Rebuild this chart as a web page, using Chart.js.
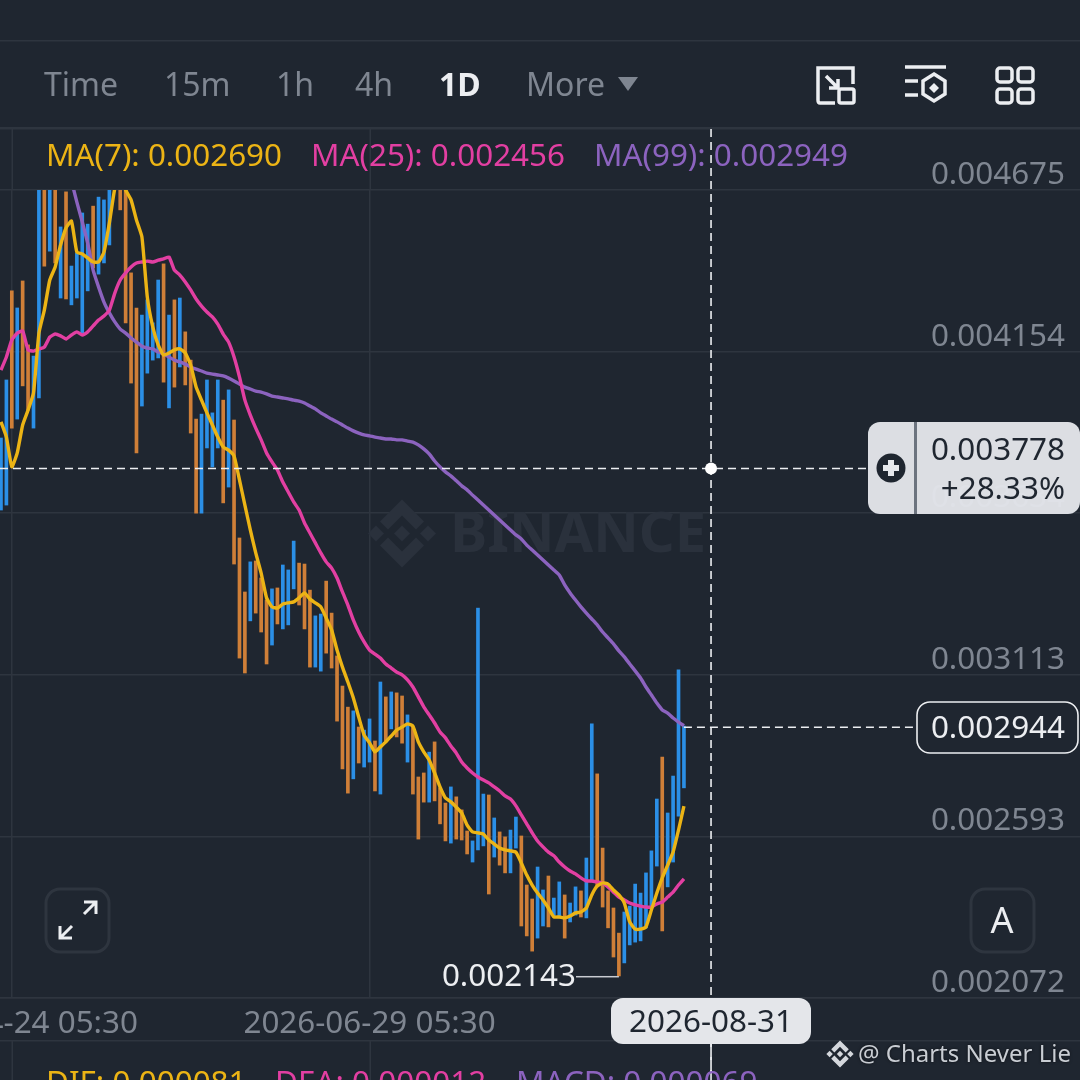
<!DOCTYPE html>
<html>
<head>
<meta charset="utf-8">
<title>1D chart</title>
<script src="https://cdn.jsdelivr.net/npm/chart.js@4"></script>
<style>
  html, body { margin: 0; padding: 0; background: #1f2630; overflow: hidden; }
  canvas { display: block; }
</style>
</head>
<body>
<canvas id="kline" width="1080" height="1080"></canvas>
<script>
// all prices are in millionths (3778 = 0.003778), one entry per daily candle
const candleHigh = [
  3876,4063,4350,4295,4382,4176,4140,4900,4850,4800,
  4760,4556,4669,4430,4472,4601,4565,4623,4652,4643,
  4800,4900,4900,4800,4408,4295,4272,4321,4247,4385,
  4437,4272,4321,4327,4218,4127,3937,3953,4063,3957,
  4063,3998,4031,3934,3554,3380,3477,3480,3425,3354,
  3390,3393,3467,3451,3544,3473,3470,3386,3303,3309,
  3415,3312,3174,3077,3009,2997,2945,2935,2971,2900,
  3090,3042,3058,3055,3045,2984,2945,2784,2797,2864,
  2897,2749,2700,2752,2720,2678,2610,2578,3328,2729,
  2726,2652,2607,2591,2613,2655,2594,2436,2391,2494,
  2420,2465,2394,2446,2404,2378,2430,2417,2523,2955,
  2794,2555,2417,2362,2281,2349,2368,2439,2410,2475,
  2546,2713,2848,2668,2787,3129,2948
];
const candleLow = [
  3644,3660,3908,3937,4044,3966,3908,4005,4430,4478,
  4440,4327,4324,4305,4327,4214,4350,4424,4404,4440,
  4498,4700,4611,4247,4053,3828,3979,4085,4127,4134,
  4056,3973,4040,4105,4047,3892,3634,3634,3844,3783,
  3844,3667,3718,3470,3167,3119,3287,3312,3251,3148,
  3209,3277,3261,3274,3390,3338,3261,3138,3138,3125,
  3183,3135,2964,2810,2732,2778,2829,2816,2832,2739,
  2729,2897,2939,2913,2893,2832,2729,2584,2703,2703,
  2707,2633,2578,2571,2584,2581,2536,2510,2549,2562,
  2407,2526,2500,2475,2475,2555,2304,2272,2223,2265,
  2304,2301,2333,2330,2265,2317,2339,2333,2330,2446,
  2430,2365,2298,2204,2143,2185,2243,2252,2256,2298,
  2362,2497,2288,2430,2510,2658,2749
];
// 1 = blue candle, 0 = orange candle
const candleBlue = [
  1,1,0,1,0,0,1,1,0,1,
  0,1,0,1,1,1,1,0,1,1,
  1,1,0,0,0,0,1,1,1,1,
  0,1,0,1,0,0,0,1,1,1,
  1,0,1,0,0,0,1,0,0,0,
  1,0,1,1,1,0,0,0,1,1,
  0,0,0,0,0,1,0,1,1,0,
  1,0,1,0,0,1,0,0,0,1,
  0,0,0,1,0,0,0,1,1,1,
  0,1,0,0,1,1,0,0,0,1,
  1,0,1,1,0,1,1,0,1,1,
  0,0,0,0,0,1,1,1,1,1,
  1,1,0,1,1,1,1
];
const ma7 = [
  3928,3879,3783,3828,3918,3966,4021,4214,4288,4385,
  4427,4498,4553,4575,4475,4469,4456,4443,4443,4475,
  4569,4681,4739,4675,4643,4578,4524,4330,4234,4176,
  4143,4150,4160,4163,4150,4111,4040,3998,3957,3918,
  3879,3847,3837,3818,3741,3660,3580,3506,3441,3361,
  3332,3328,3341,3345,3348,3361,3377,3357,3345,3332,
  3296,3258,3193,3138,3090,3039,2977,2919,2894,2865,
  2881,2897,2916,2935,2945,2955,2948,2897,2865,2839,
  2797,2752,2716,2704,2687,2668,2629,2607,2604,2600,
  2581,2568,2555,2549,2546,2542,2507,2468,2436,2410,
  2388,2362,2333,2333,2330,2336,2346,2349,2362,2404,
  2433,2443,2439,2420,2404,2378,2317,2294,2294,2301,
  2356,2410,2459,2500,2542,2613,2690
];
const ma25 = [
  4095,4137,4192,4214,4221,4160,4156,4163,4169,4201,
  4211,4205,4195,4208,4218,4208,4218,4237,4256,4269,
  4288,4343,4385,4408,4427,4440,4443,4446,4443,4449,
  4453,4459,4417,4401,4379,4353,4324,4301,4282,4266,
  4243,4211,4185,4137,4073,3998,3950,3908,3870,3828,
  3799,3773,3734,3702,3670,3644,3602,3570,3538,3506,
  3477,3457,3425,3380,3338,3290,3251,3219,3193,3180,
  3167,3148,3135,3122,3113,3097,3074,3042,3010,2984,
  2958,2929,2910,2884,2861,2832,2813,2797,2784,2774,
  2765,2752,2739,2723,2713,2691,2662,2633,2604,2578,
  2559,2542,2530,2510,2494,2481,2472,2459,2449,2449,
  2446,2443,2430,2413,2397,2388,2378,2372,2368,2365,
  2365,2375,2381,2397,2413,2436,2456
];
const ma99 = [
  null,null,null,null,null,null,null,null,null,null,
  null,null,4804,4707,4636,4572,4504,4417,4363,4314,
  4279,4250,4227,4214,4198,4185,4172,4166,4163,4153,
  4147,4137,4127,4121,4114,4105,4098,4092,4085,4082,
  4079,4076,4069,4060,4050,4040,4034,4027,4024,4018,
  4011,4008,4005,4002,3998,3995,3989,3979,3970,3957,
  3947,3937,3928,3918,3908,3899,3892,3886,3883,3879,
  3876,3873,3873,3870,3870,3866,3863,3854,3841,3825,
  3802,3783,3767,3754,3738,3722,3709,3692,3676,3660,
  3644,3628,3612,3596,3580,3564,3551,3531,3515,3499,
  3483,3467,3451,3435,3403,3377,3354,3332,3312,3293,
  3274,3251,3232,3213,3190,3171,3148,3126,3103,3074,
  3048,3022,3000,2990,2974,2961,2949
];
const priceTicks = [4675, 4154, 3634, 3113, 2593, 2072];
const dateTicks = [2, 68];
const dateLabels = ["2026-04-24 05:30", "2026-06-29 05:30"];
const periods = ["Time", "15m", "1h", "4h", "1D", "More"];

const cursorDay = 131, cursorPrice = 3778, lastDay = 126, lastPrice = 2944, lowDay = 114, lowPrice = 2143;

const BG = "#1f2630", GRID = "#2e353f", MUTED = "#7f8691", WHITE = "#eceef1";
const YELLOW = "#ecb415", PINK = "#e23fa2", PURPLE = "#8c63bf";
const BLUE = "#2b8fe6", ORANGE = "#cf7f38";
const FONT = '"Noto Sans", sans-serif';
const TEXT = 31.4;

function label(c, text, x, y, size, color, align, weight) {
  c.font = (weight || "400") + " " + size + "px " + FONT;
  c.fillStyle = color;
  c.textAlign = align || "left";
  c.textBaseline = "middle";
  c.fillText(text, x, y + 2);
}

function dashed(c, x1, y1, x2, y2, color) {
  c.save();
  c.strokeStyle = color || WHITE;
  c.lineWidth = 1.6;
  c.setLineDash([8, 5]);
  c.beginPath();
  c.moveTo(x1, y1);
  c.lineTo(x2, y2);
  c.stroke();
  c.restore();
}

function box(c, x, y, w, h, r) {
  c.beginPath();
  c.roundRect(x, y, w, h, r);
}

function poly(c, pts, ox, oy, s) {
  c.beginPath();
  pts.forEach((p, i) => i ? c.lineTo(ox + p[0] * s, oy + p[1] * s) : c.moveTo(ox + p[0] * s, oy + p[1] * s));
  c.closePath();
  c.fill();
}

function logo(c, ox, oy, s, color) {
  c.fillStyle = color;
  const diamond = [[0, -8], [8, 0], [0, 8], [-8, 0]];
  const chevron = [[0, -34], [22, -12], [14, -4], [0, -18], [-14, -4], [-22, -12]];
  poly(c, diamond, ox, oy, s);
  poly(c, diamond, ox - 26 * s, oy, s);
  poly(c, diamond, ox + 26 * s, oy, s);
  poly(c, chevron, ox, oy, s);
  poly(c, chevron.map(p => [p[0], -p[1]]), ox, oy, s);
}

const chrome = {
  id: "chrome",
  beforeDraw(chart) {
    const c = chart.ctx;
    c.save();
    c.fillStyle = BG;
    c.fillRect(0, 0, 1080, 1080);
    c.fillStyle = GRID;
    c.fillRect(0, 40, 1080, 1.5);
    c.fillRect(0, 127, 1080, 2.5);
    c.restore();
  },
  beforeDatasetsDraw(chart) {
    const c = chart.ctx;
    c.save();
    const x = chart.scales.x;
    c.fillStyle = GRID;
    dateTicks.forEach(d => {
      const px = Math.round(x.getPixelForValue(d));
      c.fillRect(px - 0.5, 129, 1.5, 61);
      c.fillRect(px - 0.5, 1040, 1.5, 40);
    });
    c.fillRect(0, 1040, 1080, 1.5);
    logo(c, 402, 533.5, 1, "#2a313c");
    label(c, "BINANCE", 450, 534, 56, "#2a313c", "left", "700");
    c.restore();
  },
  afterDraw(chart) {
    const c = chart.ctx, x = chart.scales.x, y = chart.scales.y;
    c.save();

    // period tabs
    const tabX = [44, 164, 276, 355, 439, 526];
    periods.forEach((p, i) => {
      const on = p === "1D";
      label(c, p, tabX[i], 85, 32, on ? WHITE : MUTED, "left", on ? "700" : "400");
    });
    c.fillStyle = MUTED;
    c.beginPath();
    c.moveTo(618, 77); c.lineTo(638, 77); c.lineTo(628, 91); c.closePath();
    c.fill();

    // top right icons
    c.strokeStyle = WHITE;
    c.lineWidth = 3.5;
    c.beginPath();
    c.moveTo(835, 103); c.lineTo(820, 103); c.quadraticCurveTo(818, 103, 818, 100);
    c.lineTo(818, 68); c.lineTo(853, 68); c.lineTo(853, 84);
    c.stroke();
    box(c, 839, 89, 15, 14, 2); c.stroke();
    c.beginPath();
    c.moveTo(826, 76); c.lineTo(838, 88); c.moveTo(838, 79); c.lineTo(838, 88); c.lineTo(829, 88);
    c.stroke();
    c.beginPath();
    c.moveTo(905, 67); c.lineTo(946, 67);
    c.moveTo(905, 81); c.lineTo(918, 81);
    c.moveTo(905, 95); c.lineTo(918, 95);
    c.stroke();
    c.beginPath();
    c.moveTo(934, 74); c.lineTo(945, 81); c.lineTo(945, 94); c.lineTo(934, 101);
    c.lineTo(923, 94); c.lineTo(923, 81); c.closePath();
    c.stroke();
    c.fillStyle = WHITE;
    poly(c, [[0, -5], [5, 0], [0, 5], [-5, 0]], 934, 88, 1);
    [[997, 68], [1018, 68], [997, 89], [1018, 89]].forEach(p => {
      box(c, p[0], p[1], 15, 14, 3); c.stroke();
    });

    // MA readouts
    label(c, "MA(7): 0.002690", 46, 155, TEXT, YELLOW);
    label(c, "MA(25): 0.002456", 311, 155, TEXT, PINK);
    label(c, "MA(99): 0.002949", 594, 155, TEXT, PURPLE);

    // side buttons
    c.strokeStyle = GRID;
    c.lineWidth = 3;
    box(c, 46, 889, 63, 63, 14); c.stroke();
    box(c, 971, 889, 63, 63, 14); c.stroke();
    label(c, "A", 1002, 921, 36, WHITE, "center");
    c.strokeStyle = WHITE;
    c.lineWidth = 3;
    c.beginPath();
    c.moveTo(72, 926); c.lineTo(60, 938); c.moveTo(60, 926); c.lineTo(60, 938); c.lineTo(72, 938);
    c.moveTo(84, 914); c.lineTo(96, 902); c.moveTo(84, 902); c.lineTo(96, 902); c.lineTo(96, 914);
    c.stroke();

    // lowest price marker
    const lowX = x.getPixelForValue(lowDay), lowY = y.getPixelForValue(lowPrice);
    c.fillStyle = "#c9ccd2";
    c.fillRect(576, lowY, lowX - 576, 1.5);
    label(c, "0.002143", 576, lowY - 1, TEXT, WHITE, "right");

    // crosshair
    const curX = x.getPixelForValue(cursorDay), curY = y.getPixelForValue(cursorPrice);
    dashed(c, curX, 129, curX, 1080);
    dashed(c, 0, curY, 868, curY);
    c.fillStyle = "#fff";
    c.beginPath(); c.arc(curX, curY, 6, 0, Math.PI * 2); c.fill();

    c.fillStyle = "rgba(226,228,233,0.97)";
    box(c, 868, 422, 212, 92, 12); c.fill();
    c.fillStyle = "#6d747f";
    c.fillRect(914, 422, 3, 92);
    c.fillStyle = BG;
    c.beginPath(); c.arc(891, 468, 14.5, 0, Math.PI * 2); c.fill();
    c.fillStyle = "#e6e8ec";
    c.fillRect(883, 465, 16, 6);
    c.fillRect(888, 460, 6, 16);
    label(c, "0.003778", 1065, 449, TEXT, BG, "right");
    label(c, "+28.33%", 1065, 488, TEXT, BG, "right");

    // last price tag
    const lastX = x.getPixelForValue(lastDay), lastY = y.getPixelForValue(lastPrice);
    dashed(c, lastX, lastY, 917, lastY);
    c.fillStyle = BG;
    c.strokeStyle = WHITE;
    c.lineWidth = 1.6;
    box(c, 917, 702, 161, 51, 13); c.fill(); c.stroke();
    label(c, "0.002944", 1065, 727, TEXT, WHITE, "right");

    // date tag
    c.fillStyle = "#e4e6ea";
    box(c, 611, 998, 200, 46, 12); c.fill();
    label(c, "2026-08-31", 711, 1021, TEXT, BG, "center");
    dashed(c, curX, 1044, curX, 1080);

    // MACD readouts, cut by the bottom of the picture
    label(c, "DIF: 0.000081", 46, 1082, TEXT, YELLOW);
    label(c, "DEA: 0.000012", 275, 1082, TEXT, PINK);
    label(c, "MACD: 0.000069", 516, 1082, TEXT, PURPLE);

    // signature
    logo(c, 840, 1054, 0.4, "#d5d8dd");
    c.shadowColor = "rgba(0,0,0,0.6)";
    c.shadowBlur = 3;
    label(c, "@ Charts Never Lie", 1071, 1053, 24, "#c9cdd3", "right");
    c.restore();
  }
};

const days = candleHigh.map((_, i) => i);
const toPoints = values => days.map(i => ({ x: i, y: values[i] }));
const maLine = (name, values, color, order) => ({
  type: "line", label: name, data: toPoints(values), borderColor: color,
  borderWidth: 3.4, pointRadius: 0, tension: 0.15, order: order
});

new Chart(document.getElementById("kline"), {
  type: "bar",
  plugins: [chrome],
  data: {
    datasets: [
      maLine("MA(7)", ma7, YELLOW, 1),
      maLine("MA(25)", ma25, PINK, 2),
      maLine("MA(99)", ma99, PURPLE, 3),
      {
        type: "bar", label: "candles", order: 4, barThickness: 3,
        data: days.map(i => ({ x: i, y: [candleLow[i], candleHigh[i]] })),
        backgroundColor: days.map(i => candleBlue[i] ? BLUE : ORANGE)
      }
    ]
  },
  options: {
    responsive: false,
    devicePixelRatio: 1,
    animation: false,
    layout: { autoPadding: false, padding: { top: 190, left: 0, right: 0, bottom: 0 } },
    plugins: { legend: { display: false }, tooltip: { enabled: false } },
    scales: {
      x: {
        type: "linear", offset: false, min: -0.18, max: 199.07,
        afterBuildTicks: s => { s.ticks = dateTicks.map(d => ({ value: d })); },
        // the first date label runs off the left edge, the plot must not shrink for it
        afterFit: s => { s.height = 82; s.paddingLeft = 0; s.paddingRight = 0; },
        grid: { color: GRID, lineWidth: 1.5, drawTicks: false, offset: false },
        border: { color: GRID, width: 1.5 },
        ticks: {
          autoSkip: false, maxRotation: 0, padding: 7, color: MUTED,
          font: { family: FONT, size: TEXT },
          callback: v => dateLabels[dateTicks.indexOf(v)]
        }
      },
      y: {
        position: "right", min: 2072, max: 4675,
        afterBuildTicks: s => { s.ticks = priceTicks.map(v => ({ value: v })); },
        // labels sit inside the plot, the axis takes no width
        afterFit: s => { s.width = 0; },
        grid: { color: GRID, lineWidth: 1.5, drawTicks: false },
        border: { display: false },
        ticks: {
          autoSkip: false, mirror: true, padding: -15, labelOffset: -15, color: MUTED,
          font: { family: FONT, size: TEXT },
          callback: v => (v / 1e6).toFixed(6)
        }
      }
    }
  }
});
</script>
</body>
</html>
